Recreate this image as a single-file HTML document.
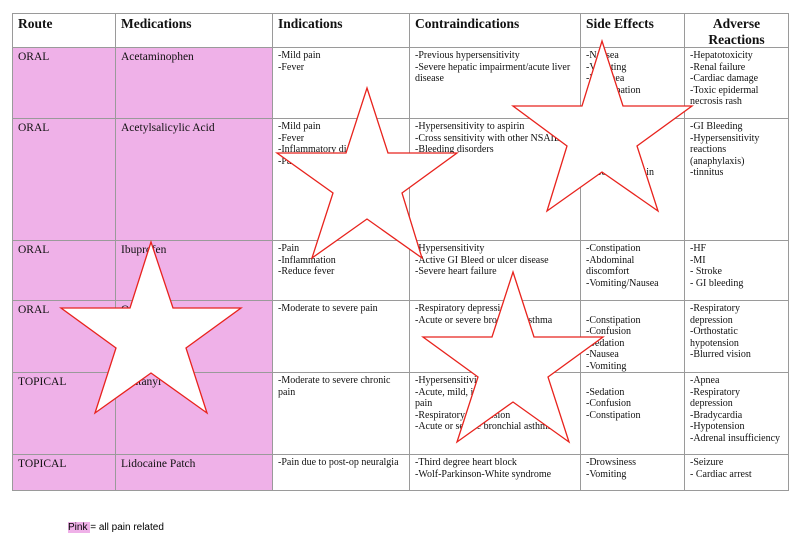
<!DOCTYPE html>
<html><head><meta charset="utf-8"><style>
body{margin:0;width:794px;height:547px;background:#fff;position:relative;overflow:hidden;font-family:"Liberation Serif",serif;}
table{position:absolute;left:12px;top:13px;border-collapse:collapse;table-layout:fixed;width:776px;}
td,th{border:1px solid #9a9a9a;vertical-align:top;padding:2px 5px 0 5px;font-size:10px;line-height:11.5px;color:#111;text-align:left;overflow:hidden;}
th{font-size:13.5px;font-weight:bold;line-height:15.5px;padding-top:2px;}
td.p{background:#efb1e8;font-size:11.5px;line-height:14px;padding-top:2px;}
#f{position:absolute;left:68px;top:522px;font-family:"Liberation Sans",sans-serif;font-size:10px;}
#f span{background:#efb1e8;}
svg{position:absolute;left:0;top:0;}
</style></head><body>
<table>
<colgroup><col style="width:103px"><col style="width:157px"><col style="width:137px"><col style="width:171px"><col style="width:104px"><col style="width:104px"></colgroup>
<tr style="height:34px"><th>Route</th><th>Medications</th><th>Indications</th><th>Contraindications</th><th>Side Effects</th><th style="text-align:center">Adverse Reactions</th></tr>
<tr style="height:71px"><td class="p">ORAL</td><td class="p">Acetaminophen</td><td>-Mild pain<br>-Fever</td><td>-Previous hypersensitivity<br>-Severe hepatic impairment/acute liver disease</td><td>-Nausea<br>-Vomiting<br>-Diarrhea<br>-Constipation</td><td>-Hepatotoxicity<br>-Renal failure<br>-Cardiac damage<br>-Toxic epidermal necrosis rash</td></tr>
<tr style="height:122px"><td class="p">ORAL</td><td class="p">Acetylsalicylic Acid</td><td>-Mild pain<br>-Fever<br>-Inflammatory disease<br>-Pain</td><td>-Hypersensitivity to aspirin<br>-Cross sensitivity with other NSAIDs<br>-Bleeding disorders</td><td><br><br><br>-GI distress<br>-Abdominal pain</td><td>-GI Bleeding<br>-Hypersensitivity reactions<br>(anaphylaxis)<br>-tinnitus</td></tr>
<tr style="height:60px"><td class="p">ORAL</td><td class="p">Ibuprofen</td><td>-Pain<br>-Inflammation<br>-Reduce fever</td><td>-Hypersensitivity<br>-Active GI Bleed or ulcer disease<br>-Severe heart failure</td><td>-Constipation<br>-Abdominal<br>discomfort<br>-Vomiting/Nausea</td><td>-HF<br>-MI<br>- Stroke<br>- GI bleeding</td></tr>
<tr style="height:71px"><td class="p">ORAL</td><td class="p">Oxycodone</td><td>-Moderate to severe pain</td><td>-Respiratory depression<br>-Acute or severe bronchial asthma</td><td><br>-Constipation<br>-Confusion<br>-Sedation<br>-Nausea<br>-Vomiting</td><td>-Respiratory<br>depression<br>-Orthostatic<br>hypotension<br>-Blurred vision</td></tr>
<tr style="height:82px"><td class="p">TOPICAL</td><td class="p">Fentanyl</td><td>-Moderate to severe chronic<br>pain</td><td>-Hypersensitivity<br>-Acute, mild, intermittent post-op<br>pain<br>-Respiratory depression<br>-Acute or severe bronchial asthma</td><td><br>-Sedation<br>-Confusion<br>-Constipation</td><td>-Apnea<br>-Respiratory<br>depression<br>-Bradycardia<br>-Hypotension<br>-Adrenal insufficiency</td></tr>
<tr style="height:36px"><td class="p">TOPICAL</td><td class="p">Lidocaine Patch</td><td>-Pain due to post-op neuralgia</td><td>-Third degree heart block<br>-Wolf-Parkinson-White syndrome</td><td>-Drowsiness<br>-Vomiting</td><td>-Seizure<br>- Cardiac arrest</td></tr>
</table>
<svg width="794" height="547">
<g fill="#fff" stroke="#e8231d" stroke-width="1.3">
<polygon points="367,88 388,153 457,153 402,193 422,258 367,219 312,258 333,193 277,153 346,153"/>
<polygon points="602,41 623,106 692,106 637,146 658,211 602,172 547,211 567,146 513,106 582,106"/>
<polygon points="151,242 173,308 241,308 186,348 207,413 151,373 95,413 116,348 61,308 130,308"/>
<polygon points="513,272 534,337 603,337 548,377 569,442 513,402 457,442 478,377 423,337 492,337"/>
</g></svg>
<div id="f"><span>Pink </span>= all pain related</div>
</body></html>
